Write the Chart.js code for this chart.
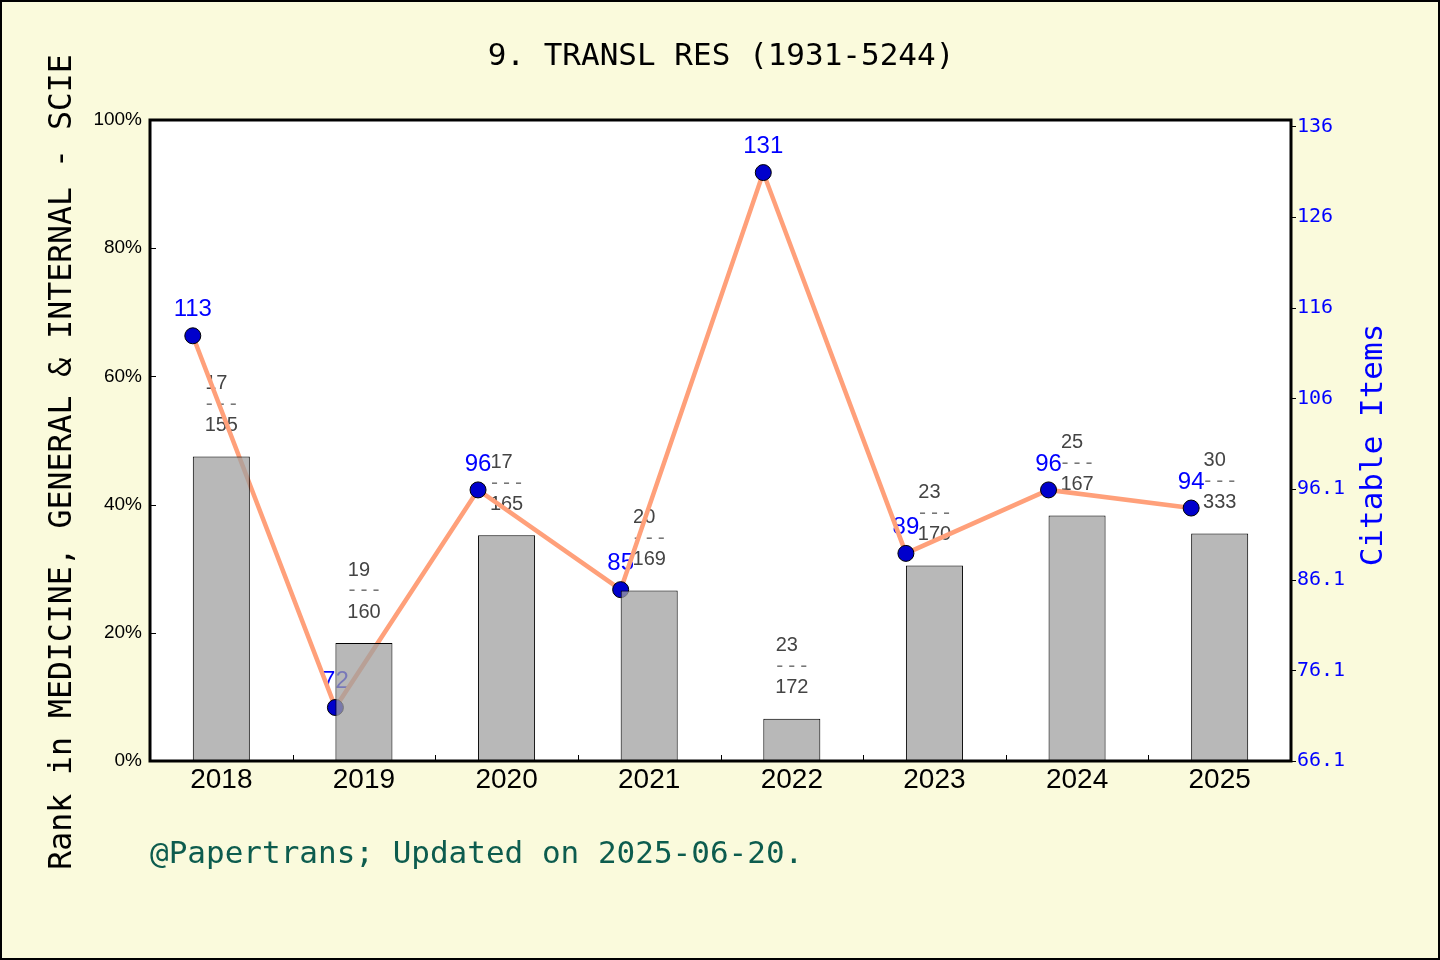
<!DOCTYPE html>
<html>
<head>
<meta charset="utf-8">
<title>9. TRANSL RES (1931-5244)</title>
<script src="https://cdn.jsdelivr.net/npm/chart.js@4.4.1/dist/chart.umd.min.js"></script>
<style>
    body { margin: 0; background: #fafadc; }
    canvas { display: block; }
</style>
</head>
<body>
<canvas id="chart-canvas" width="1440" height="960"></canvas>
<script>
// data
const years = ['2018', '2019', '2020', '2021', '2022', '2023', '2024', '2025'];
const rankPercent = [47.5, 18.4, 35.2, 26.6, 6.6, 30.5, 38.3, 35.5];
const ranks = [17, 19, 17, 20, 23, 23, 25, 30];
const totals = [155, 160, 165, 169, 172, 170, 167, 333];
const citableItems = [113, 72, 96, 85, 131, 89, 96, 94];
const rightTicks = [66.1, 76.1, 86.1, 96.1, 106.1, 116.1, 126.1, 136.1];
const leftTicks = [0, 20, 40, 60, 80, 100];

const MONO = '"DejaVu Sans Mono", "Liberation Mono", monospace';
const SANS = '"Liberation Sans", Arial, sans-serif';
const barPct = 0.4;

// line points sit on the left edge of each bar
const linePoints = citableItems.map((v, i) => ({ x: i - barPct / 2, y: v }));

const decorPlugin = {
    id: 'decor',
    beforeDraw(chart) {
        const { ctx, chartArea: a } = chart;
        ctx.save();
        ctx.fillStyle = '#fafadc';
        ctx.fillRect(0, 0, chart.width, chart.height);
        ctx.fillStyle = '#ffffff';
        ctx.fillRect(a.left, a.top, a.right - a.left, a.bottom - a.top);
        ctx.restore();
    },
    beforeDatasetsDraw(chart) {
        const ctx = chart.ctx;
        const bars = chart.getDatasetMeta(0).data;
        ctx.save();
        ctx.textAlign = 'center';
        ctx.textBaseline = 'middle';
        bars.forEach((bar, i) => {
            ctx.fillStyle = '#444444';
            ctx.font = '20px ' + SANS;
            ctx.fillText(String(ranks[i]), bar.x - 5, bar.y - 73);
            ctx.fillText(String(totals[i]), bar.x, bar.y - 31);
            ctx.fillStyle = '#777777';
            ctx.font = '20px ' + MONO;
            ctx.fillText('---', bar.x, bar.y - 52);
        });
        const pts = chart.getDatasetMeta(1).data;
        ctx.fillStyle = '#0000ff';
        ctx.font = '24px ' + SANS;
        pts.forEach((p, i) => {
            ctx.fillText(String(citableItems[i]), p.x, p.y - 26);
        });
        ctx.restore();
    },
    afterDraw(chart) {
        const { ctx, chartArea: a } = chart;
        const yScale = chart.scales.y;
        const y2Scale = chart.scales.y2;
        const xScale = chart.scales.x;
        ctx.save();
        // inward ticks on left axis
        ctx.strokeStyle = '#000';
        ctx.lineWidth = 1;
        leftTicks.forEach(v => {
            const y = Math.round(yScale.getPixelForValue(v)) + 0.5;
            ctx.beginPath();
            ctx.moveTo(a.left, y);
            ctx.lineTo(a.left + 6, y);
            ctx.stroke();
        });
        // inward ticks between categories
        for (let i = 0; i < years.length - 1; i++) {
            const x = Math.round((xScale.getPixelForValue(i) + xScale.getPixelForValue(i + 1)) / 2) + 0.5;
            ctx.beginPath();
            ctx.moveTo(x, a.bottom);
            ctx.lineTo(x, a.bottom - 6);
            ctx.stroke();
        }
        // outward ticks on right axis
        rightTicks.forEach(v => {
            const y = Math.round(y2Scale.getPixelForValue(v)) + 0.5;
            ctx.beginPath();
            ctx.moveTo(a.right, y);
            ctx.lineTo(a.right + 5, y);
            ctx.stroke();
        });
        // plot box
        ctx.lineWidth = 3;
        ctx.strokeRect(a.left, a.top, a.right - a.left, a.bottom - a.top);
        // outer frame
        ctx.lineWidth = 2;
        ctx.strokeRect(1, 1, chart.width - 2, chart.height - 2);

        // title
        ctx.fillStyle = '#000';
        ctx.font = '31px ' + MONO;
        ctx.textAlign = 'center';
        ctx.textBaseline = 'middle';
        ctx.fillText('9. TRANSL RES (1931-5244)', 721, 57);

        // left axis title
        ctx.save();
        ctx.translate(63, 462);
        ctx.rotate(-Math.PI / 2);
        ctx.font = '31.5px ' + MONO;
        ctx.fillText('Rank in MEDICINE, GENERAL & INTERNAL - SCIE', 0, 0);
        ctx.restore();

        // right axis title
        ctx.save();
        ctx.translate(1374, 445);
        ctx.rotate(-Math.PI / 2);
        ctx.fillStyle = '#0000ff';
        ctx.font = '31px ' + MONO;
        ctx.fillText('Citable Items', 0, 0);
        ctx.restore();

        // footer
        ctx.fillStyle = '#0d5c4e';
        ctx.font = '31px ' + MONO;
        ctx.textAlign = 'left';
        ctx.fillText('@Papertrans; Updated on 2025-06-20.', 150, 855);
        ctx.restore();
    }
};

const chartCanvas = document.getElementById('chart-canvas');
const chart = new Chart(chartCanvas, {
    type: 'bar',
    data: {
        labels: years,
        datasets: [{
            type: 'bar',
            data: rankPercent,
            backgroundColor: 'rgba(160,160,160,0.75)',
            borderColor: '#000',
            borderWidth: 1,
            borderSkipped: false,
            barPercentage: barPct,
            categoryPercentage: 1,
            grouped: false,
            xAxisID: 'x',
            yAxisID: 'y',
            order: 1
        }, {
            type: 'line',
            data: linePoints,
            borderColor: '#ffa07a',
            borderWidth: 4.5,
            pointRadius: 8,
            pointBackgroundColor: '#0000cc',
            pointBorderColor: '#000',
            pointBorderWidth: 1,
            xAxisID: 'x2',
            yAxisID: 'y2',
            order: 2
        }]
    },
    options: {
        responsive: false,
        animation: false,
        layout: { padding: { top: 120, left: 0, right: 0, bottom: 0 } },
        plugins: {
            legend: { display: false },
            tooltip: { enabled: false }
        },
        scales: {
            x: {
                type: 'category',
                offset: true,
                grid: { display: false, drawTicks: false },
                border: { display: false },
                ticks: { color: '#000', font: { family: SANS, size: 28 }, padding: 2 },
                afterFit(scale) { scale.height = 199; }
            },
            x2: {
                type: 'linear',
                display: false,
                offset: false,
                min: -0.5,
                max: 7.5
            },
            y: {
                position: 'left',
                min: 0,
                max: 100,
                grid: { display: false, drawTicks: false },
                border: { display: false },
                afterBuildTicks(scale) { scale.ticks = leftTicks.map(v => ({ value: v })); },
                ticks: {
                    color: '#000',
                    font: { family: SANS, size: 19 },
                    padding: 8,
                    callback: v => v + '%'
                },
                afterFit(scale) { scale.width = 150; }
            },
            y2: {
                position: 'right',
                min: 66.1,
                max: 136.8,
                grid: { display: false, drawTicks: false },
                border: { display: false },
                afterBuildTicks(scale) { scale.ticks = rightTicks.map(v => ({ value: v })); },
                ticks: {
                    color: '#0000ff',
                    font: { family: MONO, size: 20 },
                    padding: 6,
                    callback: v => String(Number(v.toPrecision(3)))
                },
                afterFit(scale) { scale.width = 149; }
            }
        }
    },
    plugins: [decorPlugin]
});
</script>
</body>
</html>
